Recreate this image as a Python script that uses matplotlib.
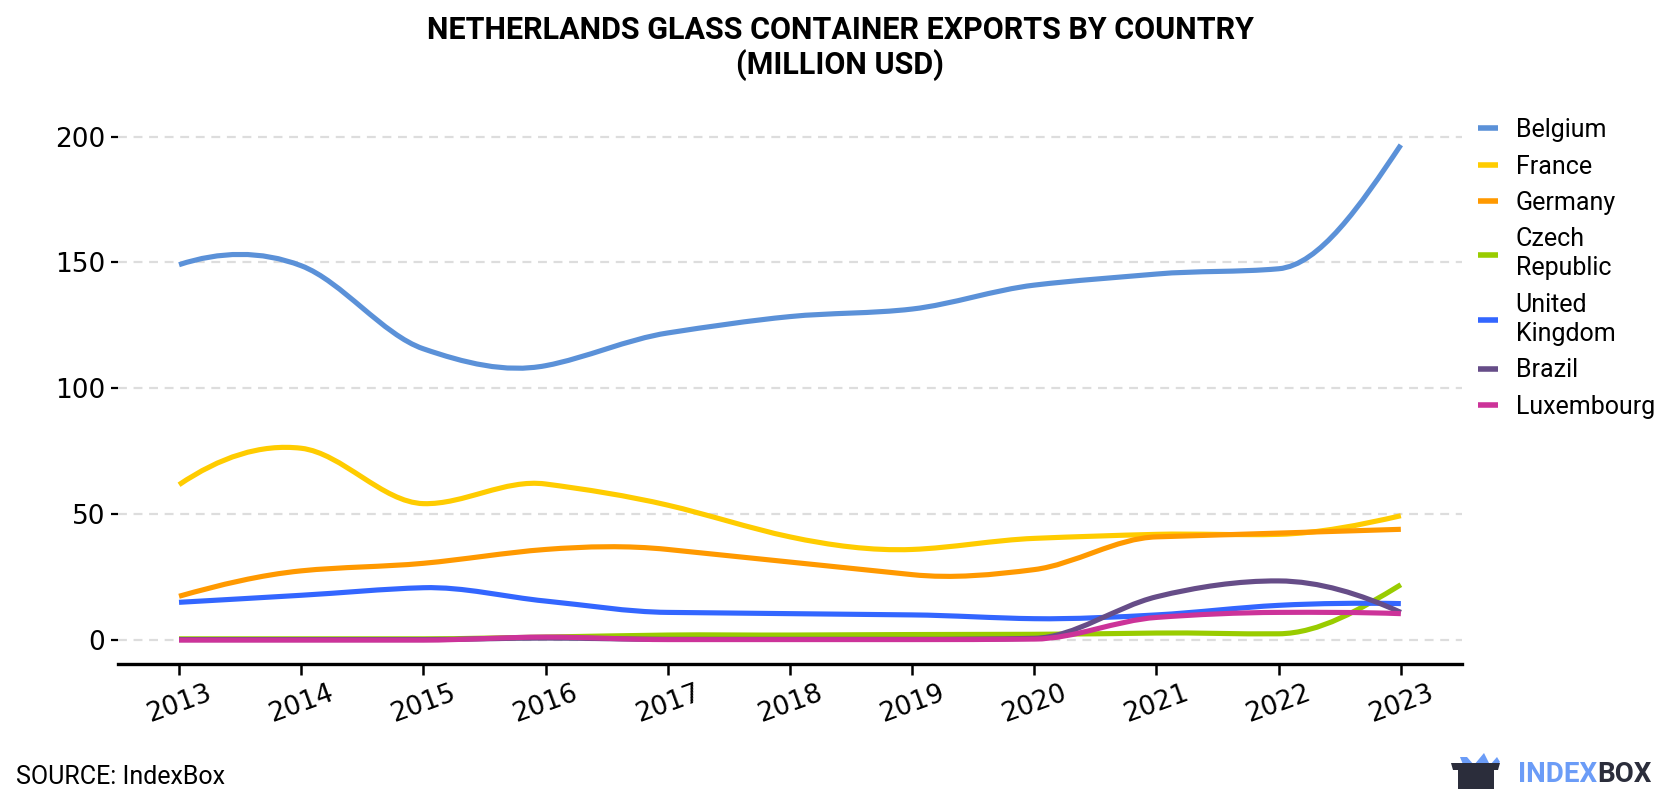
import numpy as np
import matplotlib
matplotlib.use('Agg')
import matplotlib.pyplot as plt
from matplotlib.path import Path
from matplotlib.patches import PathPatch, Polygon
from matplotlib.lines import Line2D

years = list(range(2013, 2024))
belgium = [149.1, 148.7, 115.7, 109.0, 122.0, 128.5, 131.5, 141.0, 145.4, 147.5, 196.7]
france = [61.7, 76.2, 54.2, 62.0, 53.6, 41.0, 36.0, 40.4, 42.0, 42.0, 49.4]
germany = [17.4, 27.5, 30.5, 36.0, 36.0, 31.0, 26.0, 28.0, 41.0, 42.5, 44.0]
czech = [0.5, 0.5, 0.5, 1.2, 2.0, 2.0, 2.2, 2.3, 2.8, 2.5, 22.0]
uk = [15.0, 17.8, 20.8, 15.5, 11.0, 10.5, 10.0, 8.5, 10.0, 13.8, 14.5]
brazil = [0.2, 0.2, 0.2, 0.8, 0.3, 0.3, 0.3, 0.7, 17.2, 23.5, 11.0]
luxembourg = [0.0, 0.0, 0.0, 1.2, 0.2, 0.2, 0.2, 0.4, 9.0, 11.0, 10.5]

series = [
    ('Belgium', belgium, '#5b91d8'),
    ('France', france, '#ffcc00'),
    ('Germany', germany, '#ff9900'),
    ('Czech\nRepublic', czech, '#99cc00'),
    ('United\nKingdom', uk, '#3366ff'),
    ('Brazil', brazil, '#664d88'),
    ('Luxembourg', luxembourg, '#cc3399'),
]


def akima_path(x, y):
    # Akima tangents at the data points, drawn as cubic bezier segments
    x = np.asarray(x, float); y = np.asarray(y, float)
    s = np.diff(y) / np.diff(x)
    sm = 2 * s[0] - s[1]; smm = 2 * sm - s[0]
    sp = 2 * s[-1] - s[-2]; spp = 2 * sp - s[-1]
    m = np.concatenate([[smm, sm], s, [sp, spp]])
    dm = np.abs(np.diff(m))
    f1 = dm[2:]; f2 = dm[:-2]; f12 = f1 + f2
    t = 0.5 * (m[3:] + m[:-3])
    ok = f12 > 1e-9 * f12.max()
    t[ok] = (f1[ok] * m[1:-2][ok] + f2[ok] * m[2:-1][ok]) / f12[ok]
    verts = [(x[0], y[0])]; codes = [Path.MOVETO]
    for i in range(len(x) - 1):
        h = x[i + 1] - x[i]
        verts += [(x[i] + h / 3, y[i] + t[i] * h / 3),
                  (x[i + 1] - h / 3, y[i + 1] - t[i + 1] * h / 3),
                  (x[i + 1], y[i + 1])]
        codes += [Path.CURVE4] * 3
    return Path(verts, codes)


fig = plt.figure(figsize=(16.8, 8), dpi=100)
ax = fig.add_axes([0.0702, 0.17, 0.8, 0.675])
ax.set_xlim(2012.5, 2023.5)
ax.set_ylim(-9.5, 205)

handles = []
for i, (name, vals, col) in enumerate(series):
    ax.add_patch(PathPatch(akima_path(years, vals), fill=False, edgecolor=col,
                           lw=3.7, capstyle='butt', joinstyle='round', zorder=3 + i))
    handles.append(Line2D([], [], color=col, lw=4, solid_capstyle='butt', label=name))

ax.set_yticks([0, 50, 100, 150, 200])
ax.set_xticks(years)
ax.grid(axis='y', color='#dddddd', lw=1.6, ls=(0, (4, 3)))
ax.grid(axis='x', visible=False)
ax.set_axisbelow(True)
for s in ['top', 'right', 'left']:
    ax.spines[s].set_visible(False)
ax.spines['bottom'].set_linewidth(2.4)
ax.tick_params(axis='y', length=5, width=1.6, labelsize=19, pad=4)
ax.tick_params(axis='x', length=8, width=1.8, labelsize=19, pad=4)
for lab in ax.get_xticklabels():
    lab.set_rotation(20)
    lab.set_ha('center')

leg = fig.legend(handles=handles, loc='upper left', bbox_to_anchor=(1478 / 1680, 1 - 118 / 800),
                 frameon=False, prop={'family': 'Roboto', 'size': 18}, handlelength=0.8,
                 handletextpad=0.7, labelspacing=0.5, borderpad=0, borderaxespad=0)
for t in leg.get_texts():
    t.set_linespacing(1.26)

fig.text(0.5, 1 - 30 / 800, 'NETHERLANDS GLASS CONTAINER EXPORTS BY COUNTRY', ha='center', va='center',
         family='Roboto', fontweight='bold', fontsize=22)
fig.text(0.5, 1 - 65 / 800, '(MILLION USD)', ha='center', va='center',
         family='Roboto', fontweight='bold', fontsize=22)
fig.text(16 / 1680, 1 - 777 / 800, 'SOURCE: IndexBox', ha='left', va='center',
         family='Roboto', fontsize=18)

# logo
def fx(px): return px / 1680
def fy(py): return 1 - py / 800
fig.patches.append(Polygon([(fx(1460), fy(757)), (fx(1467), fy(757)), (fx(1474), fy(765)),
                            (fx(1484), fy(753)), (fx(1490), fy(765)), (fx(1497), fy(757)),
                            (fx(1500), fy(762)), (fx(1490), fy(772)), (fx(1466), fy(772))],
                           closed=True, transform=fig.transFigure, facecolor='#6b9cf7', edgecolor='none'))
fig.patches.append(Polygon([(fx(1451), fy(763)), (fx(1500), fy(763)), (fx(1498), fy(770)),
                            (fx(1494), fy(770)), (fx(1494), fy(789)), (fx(1458), fy(789)),
                            (fx(1458), fy(770)), (fx(1453), fy(770))],
                           closed=True, transform=fig.transFigure, facecolor='#2b2d3b', edgecolor='none'))
t1 = fig.text(fx(1518), fy(775), 'INDEX', ha='left', va='center', family='Roboto',
              fontweight='bold', fontsize=20, color='#6b9cf7')
fig.canvas.draw()
bb = t1.get_window_extent()
fig.text(bb.x1 / fig.bbox.width, fy(775), 'BOX', ha='left', va='center', family='Roboto',
         fontweight='bold', fontsize=20, color='#2b2d3b')

fig.savefig('out.png', dpi=100)
